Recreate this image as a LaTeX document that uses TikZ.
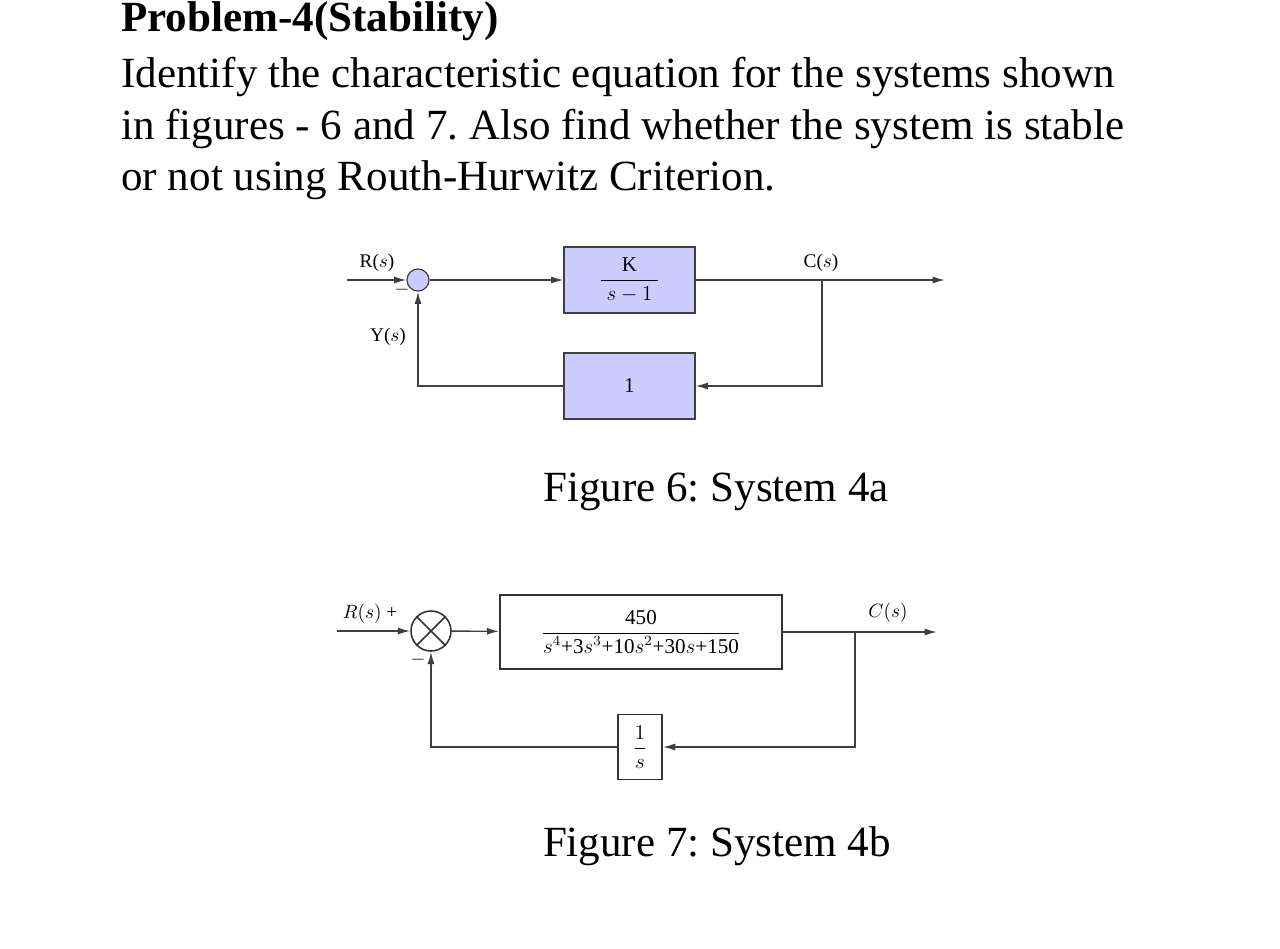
\documentclass[tikz,border=0pt]{standalone}
\usepackage{amsmath}
\usepackage{fontspec}
\setmainfont{Liberation Serif}
\usetikzlibrary{arrows.meta}
\frenchspacing
\begin{document}
\begin{tikzpicture}[x=0.02cm,y=-0.02cm,
  big/.style={font=\fontsize{24.5}{30}\selectfont,anchor=base west,inner sep=0},
  lbl/.style={font=\fontsize{11}{13}\selectfont,inner sep=1pt},
  blk/.style={draw=black!75,fill=blue!20,line width=0.7pt,minimum width=2.62cm,minimum height=1.32cm,inner sep=0,font=\fontsize{12}{14}\selectfont},
  blk2/.style={draw=black!80,line width=1.1pt,inner sep=0,font=\fontsize{12}{14}\selectfont},
  ln/.style={draw=black!75,line width=0.8pt},
  ar/.style={ln,-{Latex[length=7pt,width=4pt]}}]
\useasboundingbox (0,0) rectangle (1280,948);
\node[big,font=\bfseries\fontsize{24.5}{30}\selectfont] (t) at (121,31) {Problem-4(Stability)};
\node[big] (l1) at (121,87) {Identify the characteristic equation for the systems shown};
\node[big] (l2) at (121,139) {in figures - 6 and 7. Also find whether the system is stable};
\node[big] (l3) at (121,190) {or not using Routh-Hurwitz Criterion.};
% Figure 6
\node[circle,draw=black!75,fill=blue!20,line width=0.7pt,minimum size=0.44cm,inner sep=0] (s1) at (418,280) {};
\node[blk] (g) at (629.5,280) {$\dfrac{\mathrm{K}}{\;s-1\;}$};
\node[blk] (h) at (629.5,386) {1};
\coordinate (in1) at (347,280);
\coordinate (out1) at (945,280);
\coordinate (b1) at (822,280);
\coordinate (b1d) at (822,386);
\coordinate (c1) at (418,386);
\draw[ar] (in1) -- (s1);
\draw[ar] (s1) -- (g);
\draw[ar] (g) -- (out1);
\draw[ar] (b1) -- (b1d) -- (h);
\draw[ar] (h) -- (c1) -- (s1);
\node[lbl] (r1) at (377,263) {R($s$)};
\node[lbl] (cs1) at (821,263) {C($s$)};
\node[lbl] (y1) at (388,337) {Y($s$)};
\node[lbl] (m1) at (402,290) {$-$};
\node[big,anchor=base] (f6) at (716,501) {Figure 6: System 4a};
% Figure 7
\node[circle,draw=black!80,line width=0.9pt,minimum size=0.8cm,inner sep=0] (s2) at (431,631) {};
\draw[black!80,line width=0.9pt] (s2.north west) -- (s2.south east) (s2.north east) -- (s2.south west);
\node[blk2,minimum width=5.64cm,minimum height=1.48cm] (g2) at (641,632) {$\dfrac{\hbox{450}}{\hbox{$s^4$+3$s^3$+10$s^2$+30$s$+150}}$};
\node[blk2,minimum width=0.88cm,minimum height=1.3cm] (h2) at (640,747) {$\dfrac{1}{s}$};
\coordinate (in2) at (337,631);
\coordinate (out2) at (937,632);
\coordinate (b2) at (855,632);
\coordinate (b2d) at (855,747);
\coordinate (c2) at (431,747);
\draw[ar] (in2) -- (s2);
\draw[ar] (s2) -- (g2);
\draw[ar] (g2) -- (out2);
\draw[ar] (b2) -- (b2d) -- (h2);
\draw[ar] (h2) -- (c2) -- (s2);
\node[lbl] (r2) at (370,614) {$R(s)$ +};
\node[lbl] (cs2) at (888,613) {$C(s)$};
\node[lbl] (m2) at (418,660) {$-$};
\node[big,anchor=base] (f7) at (717,856) {Figure 7: System 4b};
\end{tikzpicture}
\end{document}
